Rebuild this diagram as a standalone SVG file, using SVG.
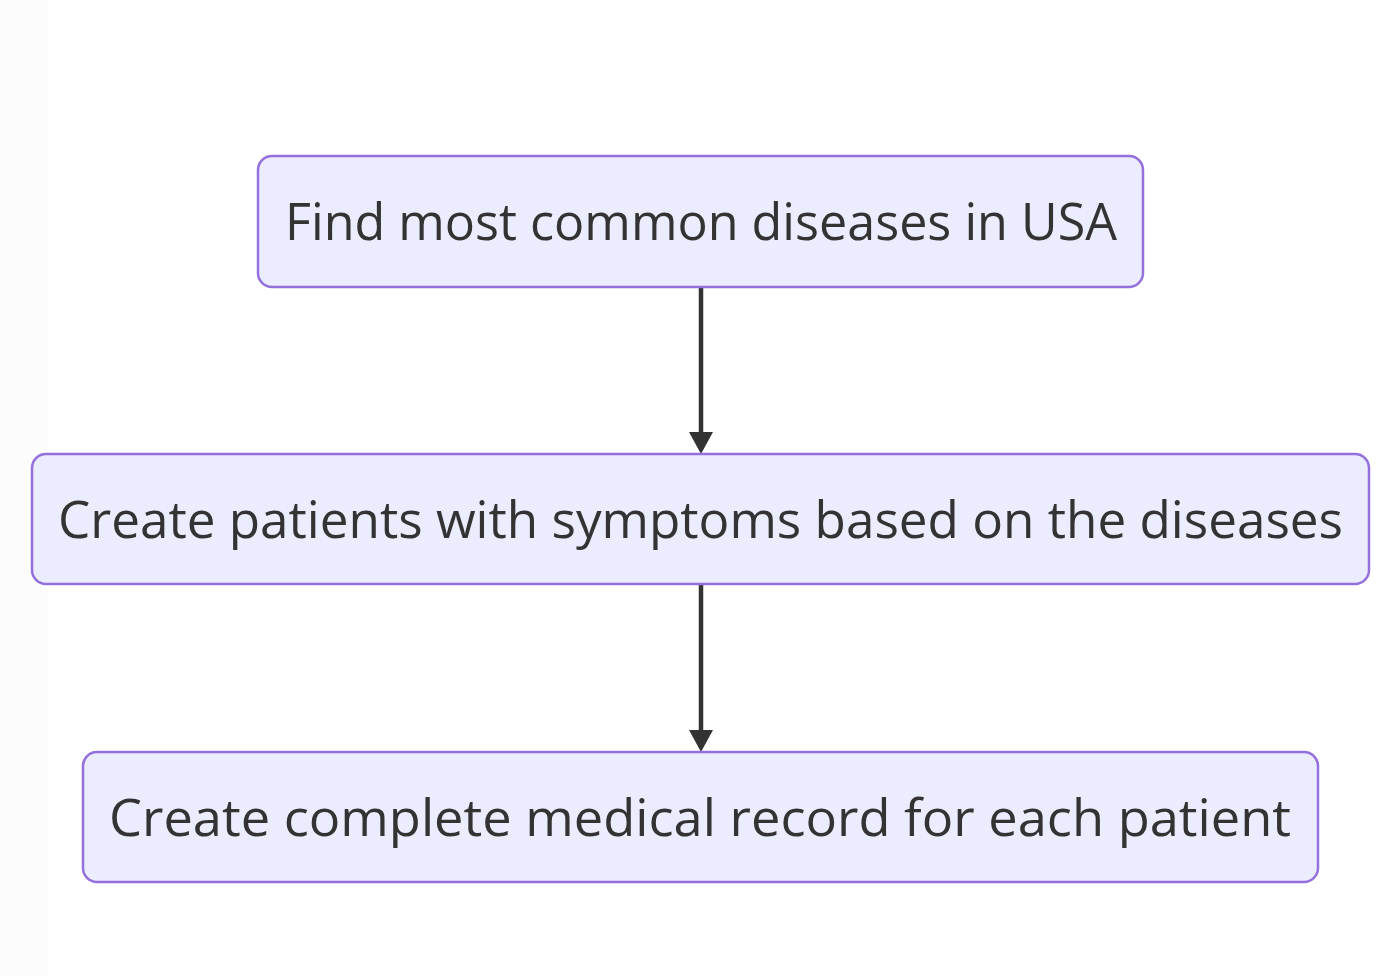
<svg xmlns="http://www.w3.org/2000/svg" width="1400" height="976" viewBox="0 0 1400 976">
<style>
.node rect{fill:#ECECFF;stroke:#9370DB;stroke-width:2.5}
.node text{font-family:"Open Sans","Noto Sans","DejaVu Sans",sans-serif;font-size:52px;font-weight:500;fill:#333333;text-anchor:middle}
.edge{stroke:#333333;stroke-width:4.5;fill:none}
</style>
<rect x="0" y="0" width="1400" height="976" fill="#ffffff"/>
<rect x="0" y="0" width="48" height="976" fill="#fcfcfc"/>
<g id="connectors">
<path class="edge" d="M701,288 L701,433"/>
<path d="M689,432 L713,432 L701,454 Z" fill="#333333"/>
<path class="edge" d="M701,585 L701,731"/>
<path d="M689,730 L713,730 L701,752 Z" fill="#333333"/>
</g>
<g id="node1" class="node">
<rect x="258" y="156" width="885" height="131" rx="14" ry="14"/>
<text x="701" y="240" textLength="832" lengthAdjust="spacingAndGlyphs">Find most common diseases in USA</text>
</g>
<g id="node2" class="node">
<rect x="32" y="454" width="1337" height="130" rx="14" ry="14"/>
<text x="700.5" y="538" textLength="1285" lengthAdjust="spacingAndGlyphs">Create patients with symptoms based on the diseases</text>
</g>
<g id="node3" class="node">
<rect x="83" y="752" width="1235" height="130" rx="14" ry="14"/>
<text x="700" y="836" textLength="1182" lengthAdjust="spacingAndGlyphs">Create complete medical record for each patient</text>
</g>
</svg>
